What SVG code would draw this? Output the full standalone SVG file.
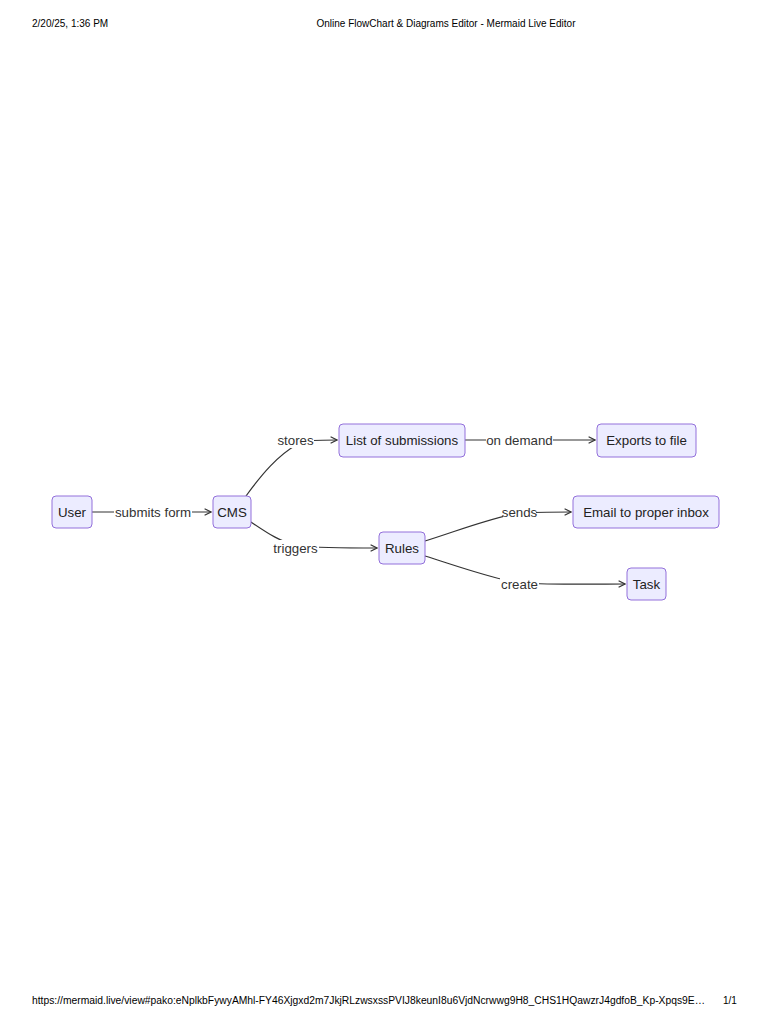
<svg xmlns="http://www.w3.org/2000/svg" width="768" height="1024" viewBox="0 0 768 1024">
<style>
.hdr{font-family:"Liberation Sans",Arial,sans-serif;font-size:10px;fill:#000}
.node rect{fill:#ECECFF;stroke:#9370DB;stroke-width:1}
.node text{font-family:"Liberation Sans",Arial,sans-serif;font-size:13.3px;fill:#222;text-anchor:middle;dominant-baseline:central}
.edge{fill:none;stroke:#333;stroke-width:1.2}
.lbl rect{fill:#fff}
.lbl text{font-family:"Liberation Sans",Arial,sans-serif;font-size:13.3px;fill:#333;text-anchor:middle;dominant-baseline:central}
</style>
<defs>
<marker id="arr" viewBox="0 0 10 10" refX="9" refY="5" markerWidth="8" markerHeight="8" markerUnits="userSpaceOnUse" orient="auto">
<polyline points="1,1 9,5 1,9" fill="none" stroke="#333" stroke-width="1.4"/>
</marker>
</defs>
<rect width="768" height="1024" fill="#fff"/>
<text class="hdr" x="32" y="27">2/20/25, 1:36 PM</text>
<text class="hdr" x="446" y="27" text-anchor="middle">Online FlowChart &amp; Diagrams Editor - Mermaid Live Editor</text>
<text class="hdr" x="32" y="1004" textLength="673" lengthAdjust="spacingAndGlyphs">https://mermaid.live/view#pako:eNplkbFywyAMhl-FY46Xjgxd2m7JkjRLzwsxssPVIJ8keunI8u6VjdNcrwwg9H8_CHS1HQawzrJ4gdfoB_Kp-Xpqs9E…</text>
<text class="hdr" x="723" y="1004">1/1</text>
<g id="connectors">
<path class="edge" d="M92,512 L211,512" marker-end="url(#arr)"/>
<path class="edge" d="M246,496 C262,474 278,455 298,444 C306,440 318,440 337,440" marker-end="url(#arr)"/>
<path class="edge" d="M465,440 L595,440" marker-end="url(#arr)"/>
<path class="edge" d="M251,522 C266,532 280,542 298,546 C320,548 350,548 377,548" marker-end="url(#arr)"/>
<path class="edge" d="M425,541 C460,530 490,518 519,513 C535,512 555,512 571,512" marker-end="url(#arr)"/>
<path class="edge" d="M425,556 C460,567 490,578 519,583 C560,585 600,584 625,584" marker-end="url(#arr)"/>
</g>
<g id="labels">
<g class="lbl"><rect x="114" y="504" width="78" height="16"/><text x="153" y="512">submits form</text></g>
<g class="lbl"><rect x="277" y="432" width="37" height="16"/><text x="295.5" y="440">stores</text></g>
<g class="lbl"><rect x="486" y="432" width="67" height="16"/><text x="519.5" y="440">on demand</text></g>
<g class="lbl"><rect x="272" y="540" width="47" height="16"/><text x="295.5" y="548">triggers</text></g>
<g class="lbl"><rect x="503" y="504" width="33" height="16"/><text x="519.5" y="512">sends</text></g>
<g class="lbl"><rect x="500" y="576" width="39" height="16"/><text x="519.5" y="584">create</text></g>
</g>
<g id="node-user" class="node"><rect x="52" y="496" width="40" height="32" rx="4"/><text x="72" y="512">User</text></g>
<g id="node-cms" class="node"><rect x="213" y="496" width="38" height="32" rx="4"/><text x="232" y="512">CMS</text></g>
<g id="node-list" class="node"><rect x="339" y="424" width="126" height="33" rx="4"/><text x="402" y="440.5">List of submissions</text></g>
<g id="node-exports" class="node"><rect x="597" y="424" width="99" height="33" rx="4"/><text x="646.5" y="440.5">Exports to file</text></g>
<g id="node-rules" class="node"><rect x="379" y="532" width="46" height="32" rx="4"/><text x="402" y="548">Rules</text></g>
<g id="node-email" class="node"><rect x="573" y="496" width="146" height="32" rx="4"/><text x="646" y="512">Email to proper inbox</text></g>
<g id="node-task" class="node"><rect x="627" y="568" width="39" height="32" rx="4"/><text x="646.5" y="584">Task</text></g>
</svg>
